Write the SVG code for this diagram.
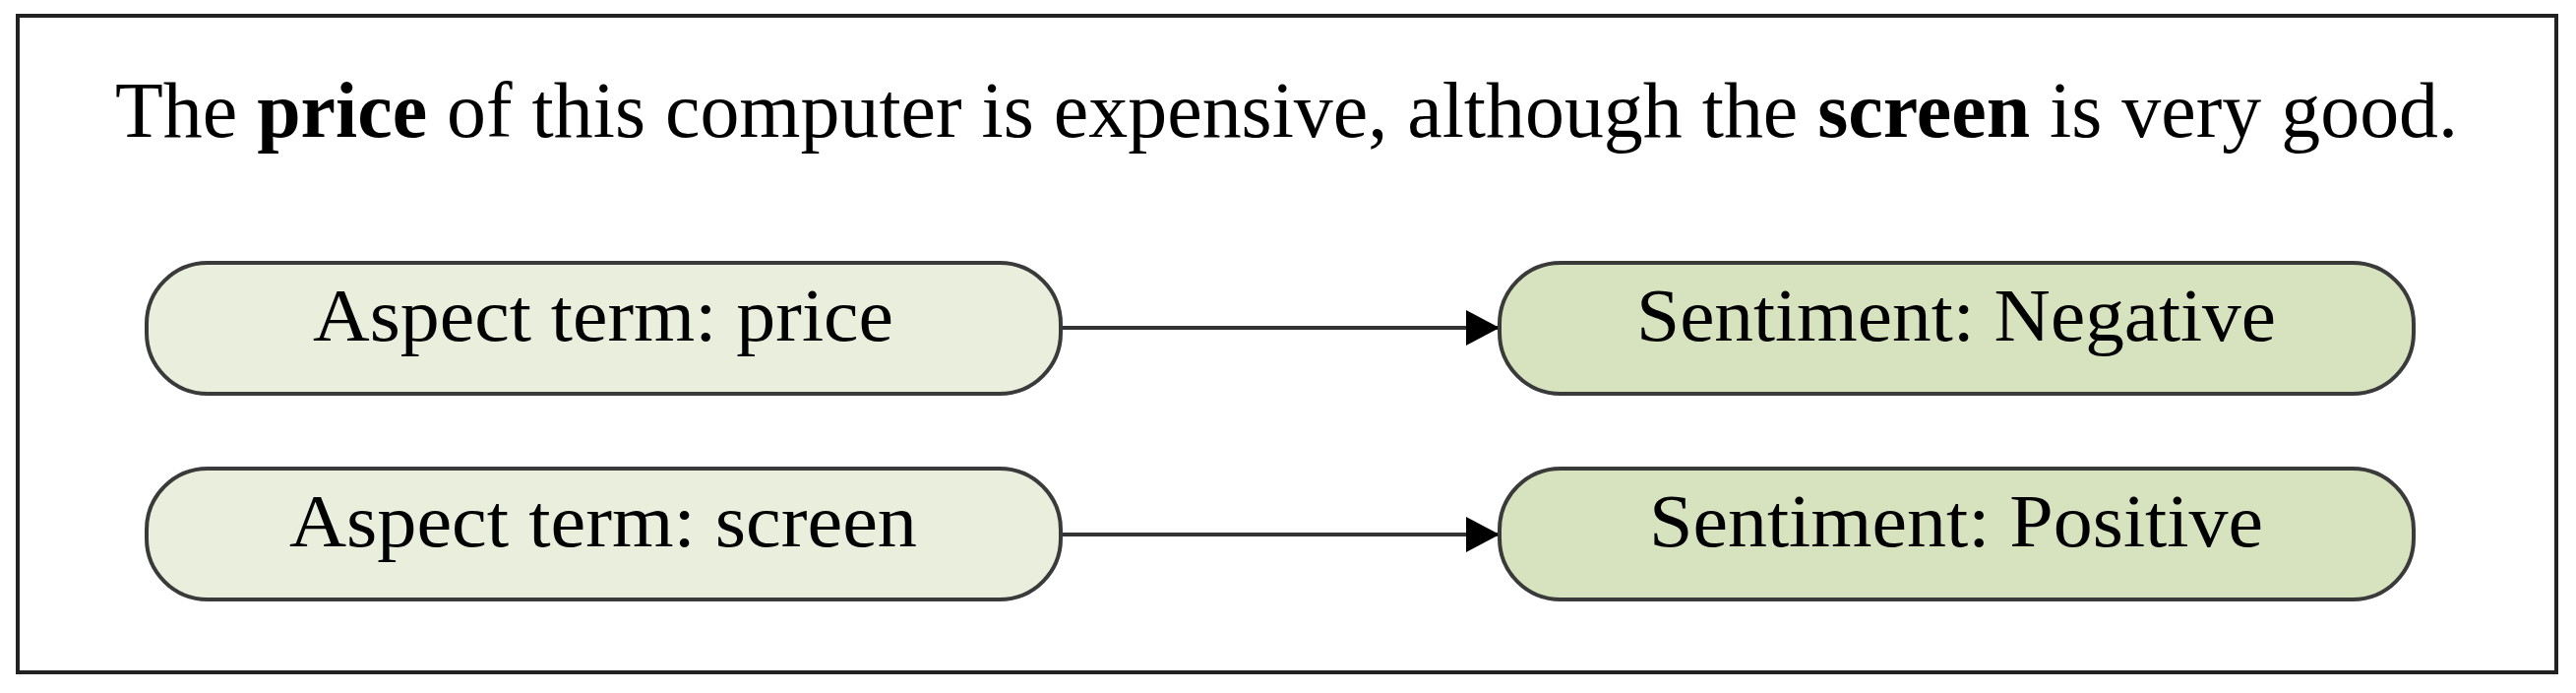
<svg xmlns="http://www.w3.org/2000/svg" width="2618" height="704" viewBox="0 0 2618 704">
<style>
text{font-family:"Liberation Serif","Times New Roman",serif;fill:#000}
.t{font-size:80px}
.n{font-size:76px;text-anchor:middle}
.a{fill:#E9EFDC;stroke:#3a3a3a;stroke-width:4}
.s{fill:#D7E2BE;stroke:#3a3a3a;stroke-width:4}
.c{stroke:#333;stroke-width:4;fill:none}
</style>
<defs><marker id="ah" markerUnits="userSpaceOnUse" markerWidth="36" markerHeight="36" refX="34" refY="18" orient="auto"><path d="M0,0 L34,18 L0,36 Z" fill="#000"/></marker></defs>
<rect x="18" y="16" width="2580" height="667" fill="#fff" stroke="#222" stroke-width="4"/>
<text class="t" x="117" y="139" textLength="2381" lengthAdjust="spacingAndGlyphs">The <tspan font-weight="bold">price</tspan> of this computer is expensive, although the <tspan font-weight="bold">screen</tspan> is very good.</text>
<g id="connectors">
<line class="c" x1="1078" y1="333" x2="1524" y2="333" marker-end="url(#ah)"/>
<line class="c" x1="1078" y1="543" x2="1524" y2="543" marker-end="url(#ah)"/>
</g>
<g id="n1"><rect class="a" x="149" y="267" width="929" height="133" rx="62"/><text class="n" x="613" y="346" textLength="590" lengthAdjust="spacingAndGlyphs">Aspect term: price</text></g>
<g id="n2"><rect class="a" x="149" y="476" width="929" height="133" rx="62"/><text class="n" x="613" y="555" textLength="638" lengthAdjust="spacingAndGlyphs">Aspect term: screen</text></g>
<g id="n3"><rect class="s" x="1524" y="267" width="929" height="133" rx="62"/><text class="n" x="1988" y="346" textLength="650" lengthAdjust="spacingAndGlyphs">Sentiment: Negative</text></g>
<g id="n4"><rect class="s" x="1524" y="476" width="929" height="133" rx="62"/><text class="n" x="1988" y="555" textLength="624" lengthAdjust="spacingAndGlyphs">Sentiment: Positive</text></g>
</svg>
